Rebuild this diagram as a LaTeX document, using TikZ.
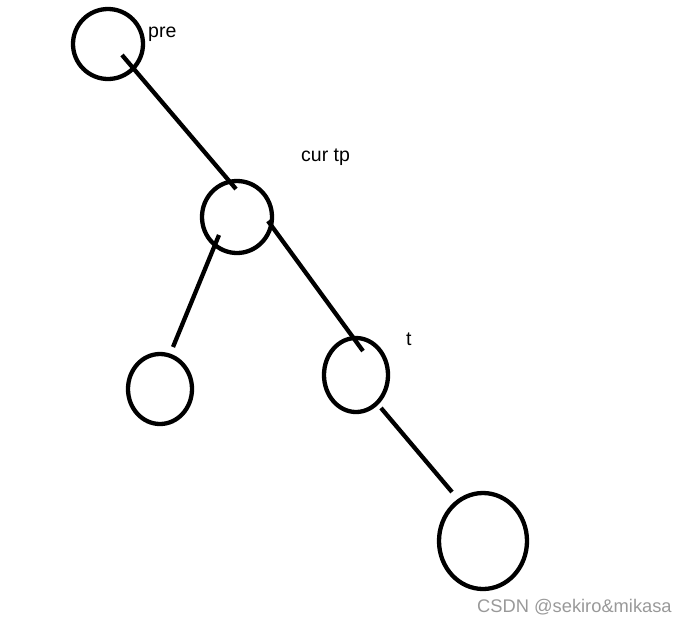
\documentclass[tikz,border=0pt]{standalone}
\usepackage{fontspec}
\setmainfont{Liberation Sans}
\begin{document}
\begin{tikzpicture}[x=1pt,y=-1pt,
  ring/.style={draw=black,line width=4.3pt},
  edge/.style={draw=black,line width=4.3pt},
  lbl/.style={anchor=west,inner sep=0pt,font=\fontsize{19.5}{22}\selectfont},
  wm/.style={anchor=west,inner sep=0pt,text=black!40,font=\fontsize{18.3}{20}\selectfont}]
\useasboundingbox (0,0) rectangle (687,622);
\draw[ring] (108,44) ellipse [x radius=35, y radius=35];
\draw[ring] (237,217) ellipse [x radius=35, y radius=36];
\draw[ring] (160,389) ellipse [x radius=32, y radius=35];
\draw[ring] (356,375) ellipse [x radius=32, y radius=37];
\draw[ring] (483,541) ellipse [x radius=44, y radius=48];
\coordinate (a1) at (122,55);  \coordinate (a2) at (236,189);
\coordinate (b1) at (219,235); \coordinate (b2) at (173,347);
\coordinate (c1) at (268,221); \coordinate (c2) at (363,351);
\coordinate (d1) at (381,408); \coordinate (d2) at (452,492);
\draw[edge] (a1) -- (a2);
\draw[edge] (b1) -- (b2);
\draw[edge] (c1) -- (c2);
\draw[edge] (d1) -- (d2);
\node[lbl] (pre) at (148,34) {pre};
\node[lbl] (cur) at (301,157) {cur tp};
\node[lbl] (t) at (406,339) {t};
\node[wm] (w) at (477,607) {CSDN @sekiro\&mikasa};
\end{tikzpicture}
\end{document}
